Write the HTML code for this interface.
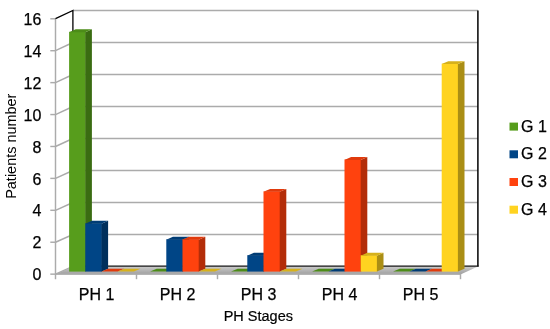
<!DOCTYPE html>
<html><head><meta charset="utf-8"><title>Chart</title><style>html,body{margin:0;padding:0;background:#fff}body{width:550px;height:329px;overflow:hidden}</style></head><body>
<svg width="550" height="329" viewBox="0 0 550 329" style="display:block">
<rect width="550" height="329" fill="#fff"/>
<line x1="55.5" y1="274.15" x2="72.9" y2="266.50" stroke="#ababab" stroke-width="1.45"/>
<line x1="50.3" y1="274.15" x2="55.5" y2="274.15" stroke="#ababab" stroke-width="1.45"/>
<line x1="72.9" y1="234.50" x2="477.9" y2="234.50" stroke="#ababab" stroke-width="1.45"/>
<line x1="55.5" y1="242.23" x2="72.9" y2="234.50" stroke="#ababab" stroke-width="1.45"/>
<line x1="50.3" y1="242.23" x2="55.5" y2="242.23" stroke="#ababab" stroke-width="1.45"/>
<line x1="72.9" y1="202.50" x2="477.9" y2="202.50" stroke="#ababab" stroke-width="1.45"/>
<line x1="55.5" y1="210.31" x2="72.9" y2="202.50" stroke="#ababab" stroke-width="1.45"/>
<line x1="50.3" y1="210.31" x2="55.5" y2="210.31" stroke="#ababab" stroke-width="1.45"/>
<line x1="72.9" y1="170.50" x2="477.9" y2="170.50" stroke="#ababab" stroke-width="1.45"/>
<line x1="55.5" y1="178.39" x2="72.9" y2="170.50" stroke="#ababab" stroke-width="1.45"/>
<line x1="50.3" y1="178.39" x2="55.5" y2="178.39" stroke="#ababab" stroke-width="1.45"/>
<line x1="72.9" y1="138.50" x2="477.9" y2="138.50" stroke="#ababab" stroke-width="1.45"/>
<line x1="55.5" y1="146.47" x2="72.9" y2="138.50" stroke="#ababab" stroke-width="1.45"/>
<line x1="50.3" y1="146.47" x2="55.5" y2="146.47" stroke="#ababab" stroke-width="1.45"/>
<line x1="72.9" y1="106.50" x2="477.9" y2="106.50" stroke="#ababab" stroke-width="1.45"/>
<line x1="55.5" y1="114.55" x2="72.9" y2="106.50" stroke="#ababab" stroke-width="1.45"/>
<line x1="50.3" y1="114.55" x2="55.5" y2="114.55" stroke="#ababab" stroke-width="1.45"/>
<line x1="72.9" y1="74.50" x2="477.9" y2="74.50" stroke="#ababab" stroke-width="1.45"/>
<line x1="55.5" y1="82.63" x2="72.9" y2="74.50" stroke="#ababab" stroke-width="1.45"/>
<line x1="50.3" y1="82.63" x2="55.5" y2="82.63" stroke="#ababab" stroke-width="1.45"/>
<line x1="72.9" y1="42.50" x2="477.9" y2="42.50" stroke="#ababab" stroke-width="1.45"/>
<line x1="55.5" y1="50.71" x2="72.9" y2="42.50" stroke="#ababab" stroke-width="1.45"/>
<line x1="50.3" y1="50.71" x2="55.5" y2="50.71" stroke="#ababab" stroke-width="1.45"/>
<line x1="72.9" y1="10.50" x2="477.9" y2="10.50" stroke="#ababab" stroke-width="1.45"/>
<line x1="50.3" y1="18.79" x2="55.5" y2="18.79" stroke="#ababab" stroke-width="1.45"/>
<defs><linearGradient id="fl" x1="0" y1="0" x2="0" y2="1"><stop offset="0" stop-color="#cacaca"/><stop offset="1" stop-color="#9e9e9e"/></linearGradient></defs>
<polygon points="55.5,274.5 460.5,274.5 477.9,266.5 72.9,266.5" fill="url(#fl)"/>
<line x1="55.5" y1="18.54" x2="55.5" y2="279.2" stroke="#ababab" stroke-width="1.45"/>
<line x1="55.5" y1="273.9" x2="460.5" y2="273.9" stroke="#ababab" stroke-width="1.45"/>
<line x1="136.5" y1="273.9" x2="136.5" y2="279.2" stroke="#ababab" stroke-width="1.45"/>
<line x1="217.5" y1="273.9" x2="217.5" y2="279.2" stroke="#ababab" stroke-width="1.45"/>
<line x1="298.5" y1="273.9" x2="298.5" y2="279.2" stroke="#ababab" stroke-width="1.45"/>
<line x1="379.5" y1="273.9" x2="379.5" y2="279.2" stroke="#ababab" stroke-width="1.45"/>
<line x1="460.5" y1="273.9" x2="460.5" y2="279.2" stroke="#ababab" stroke-width="1.45"/>
<polyline points="55.5,18.54 72.9,10.50 72.9,266.1" fill="none" stroke="#000" stroke-width="1.3" stroke-linejoin="miter"/>
<line x1="477.9" y1="266.5" x2="477.9" y2="10.50" stroke="#000" stroke-width="1.5"/>
<line x1="72.9" y1="266.1" x2="478.65" y2="266.1" stroke="#111" stroke-width="1.1"/>
<rect x="69.10" y="31.80" width="16.599999999999998" height="239.80" fill="#579d1c"/>
<polygon points="85.30,271.6 91.90,268.70000000000005 91.90,29.30 85.30,32.20" fill="#3a6c12"/>
<polygon points="69.10,32.20 85.30,32.20 91.90,29.30 75.70,29.30" fill="#4c8c18"/>
<rect x="85.30" y="223.32" width="16.599999999999998" height="48.28" fill="#004586"/>
<polygon points="101.50,271.6 108.10,268.70000000000005 108.10,220.82 101.50,223.72" fill="#002f5c"/>
<polygon points="85.30,223.72 101.50,223.72 108.10,220.82 91.90,220.82" fill="#003c75"/>
<polygon points="101.50,271.60 117.70,271.60 124.30,268.70 108.10,268.70" fill="#e03a0c"/>
<polygon points="117.70,271.60 133.90,271.60 140.50,268.70 124.30,268.70" fill="#d6b11b"/>
<polygon points="150.10,271.60 166.30,271.60 172.90,268.70 156.70,268.70" fill="#4c8c18"/>
<rect x="166.30" y="239.28" width="16.599999999999998" height="32.32" fill="#004586"/>
<polygon points="182.50,271.6 189.10,268.70000000000005 189.10,236.78 182.50,239.68" fill="#002f5c"/>
<polygon points="166.30,239.68 182.50,239.68 189.10,236.78 172.90,236.78" fill="#003c75"/>
<rect x="182.50" y="239.28" width="16.599999999999998" height="32.32" fill="#ff420e"/>
<polygon points="198.70,271.6 205.30,268.70000000000005 205.30,236.78 198.70,239.68" fill="#b32d09"/>
<polygon points="182.50,239.68 198.70,239.68 205.30,236.78 189.10,236.78" fill="#e03a0c"/>
<polygon points="198.70,271.60 214.90,271.60 221.50,268.70 205.30,268.70" fill="#d6b11b"/>
<polygon points="231.10,271.60 247.30,271.60 253.90,268.70 237.70,268.70" fill="#4c8c18"/>
<rect x="247.30" y="255.24" width="16.599999999999998" height="16.36" fill="#004586"/>
<polygon points="263.50,271.6 270.10,268.70000000000005 270.10,252.74 263.50,255.64" fill="#002f5c"/>
<polygon points="247.30,255.64 263.50,255.64 270.10,252.74 253.90,252.74" fill="#003c75"/>
<rect x="263.50" y="191.40" width="16.599999999999998" height="80.20" fill="#ff420e"/>
<polygon points="279.70,271.6 286.30,268.70000000000005 286.30,188.90 279.70,191.80" fill="#b32d09"/>
<polygon points="263.50,191.80 279.70,191.80 286.30,188.90 270.10,188.90" fill="#e03a0c"/>
<polygon points="279.70,271.60 295.90,271.60 302.50,268.70 286.30,268.70" fill="#d6b11b"/>
<polygon points="312.10,271.60 328.30,271.60 334.90,268.70 318.70,268.70" fill="#4c8c18"/>
<polygon points="328.30,271.60 344.50,271.60 351.10,268.70 334.90,268.70" fill="#003c75"/>
<rect x="344.50" y="159.48" width="16.599999999999998" height="112.12" fill="#ff420e"/>
<polygon points="360.70,271.6 367.30,268.70000000000005 367.30,156.98 360.70,159.88" fill="#b32d09"/>
<polygon points="344.50,159.88 360.70,159.88 367.30,156.98 351.10,156.98" fill="#e03a0c"/>
<rect x="360.70" y="255.24" width="16.599999999999998" height="16.36" fill="#ffd320"/>
<polygon points="376.90,271.6 383.50,268.70000000000005 383.50,252.74 376.90,255.64" fill="#aa8e15"/>
<polygon points="360.70,255.64 376.90,255.64 383.50,252.74 367.30,252.74" fill="#d6b11b"/>
<polygon points="393.10,271.60 409.30,271.60 415.90,268.70 399.70,268.70" fill="#4c8c18"/>
<polygon points="409.30,271.60 425.50,271.60 432.10,268.70 415.90,268.70" fill="#003c75"/>
<polygon points="425.50,271.60 441.70,271.60 448.30,268.70 432.10,268.70" fill="#e03a0c"/>
<rect x="441.70" y="63.72" width="16.599999999999998" height="207.88" fill="#ffd320"/>
<polygon points="457.90,271.6 464.50,268.70000000000005 464.50,61.22 457.90,64.12" fill="#aa8e15"/>
<polygon points="441.70,64.12 457.90,64.12 464.50,61.22 448.30,61.22" fill="#d6b11b"/>
<g font-family="'Liberation Sans', sans-serif" fill="#000" stroke="#000" stroke-width="0.25">
<text x="41.4" y="280.30" font-size="16" text-anchor="end">0</text>
<text x="41.4" y="248.38" font-size="16" text-anchor="end">2</text>
<text x="41.4" y="216.46" font-size="16" text-anchor="end">4</text>
<text x="41.4" y="184.54" font-size="16" text-anchor="end">6</text>
<text x="41.4" y="152.62" font-size="16" text-anchor="end">8</text>
<text x="41.4" y="120.70" font-size="16" text-anchor="end">10</text>
<text x="41.4" y="88.78" font-size="16" text-anchor="end">12</text>
<text x="41.4" y="56.86" font-size="16" text-anchor="end">14</text>
<text x="41.4" y="24.94" font-size="16" text-anchor="end">16</text>
<text x="96.50" y="299.8" font-size="16" text-anchor="middle">PH 1</text>
<text x="177.50" y="299.8" font-size="16" text-anchor="middle">PH 2</text>
<text x="258.50" y="299.8" font-size="16" text-anchor="middle">PH 3</text>
<text x="339.50" y="299.8" font-size="16" text-anchor="middle">PH 4</text>
<text x="420.50" y="299.8" font-size="16" text-anchor="middle">PH 5</text>
<text x="223.7" y="320.9" font-size="14" textLength="69.3" lengthAdjust="spacingAndGlyphs" stroke-width="0.2">PH Stages</text>
<text transform="translate(15.5,198.8) rotate(-90)" font-size="14.2" textLength="105.2" lengthAdjust="spacingAndGlyphs" stroke="none">Patients number</text>
<rect x="509.5" y="122.60" width="8.5" height="8" fill="#579d1c" stroke="none"/>
<text x="521" y="131.50" font-size="16">G 1</text>
<rect x="509.5" y="150.30" width="8.5" height="8" fill="#004586" stroke="none"/>
<text x="521" y="159.20" font-size="16">G 2</text>
<rect x="509.5" y="178.00" width="8.5" height="8" fill="#ff420e" stroke="none"/>
<text x="521" y="186.90" font-size="16">G 3</text>
<rect x="509.5" y="205.70" width="8.5" height="8" fill="#ffd320" stroke="none"/>
<text x="521" y="214.60" font-size="16">G 4</text>
</g>
</svg>
</body></html>
